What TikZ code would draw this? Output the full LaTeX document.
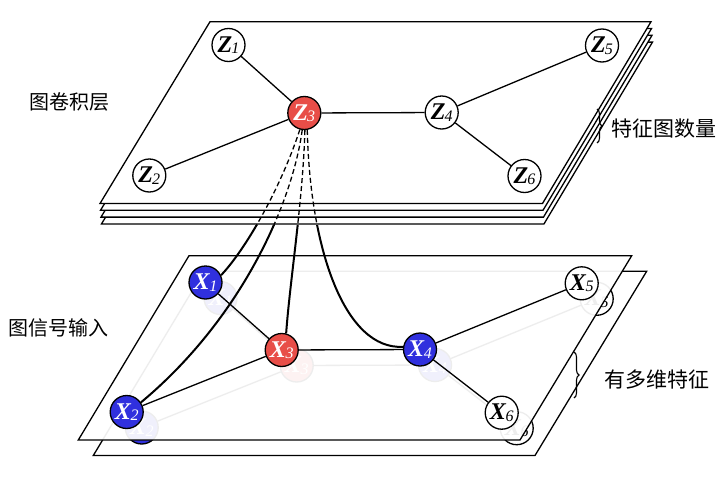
\documentclass[tikz,border=0pt]{standalone}
\usepackage{fontspec}
\setmainfont{Liberation Serif}
\newfontfamily\cjk{Noto Sans CJK SC}
\usetikzlibrary{decorations.pathreplacing}
\definecolor{nblue}{RGB}{48,48,222}
\definecolor{nred}{RGB}{232,78,72}
\newcommand\glab[2]{\textbf{\textit{#1}}\kern-0.8pt\raisebox{-1.5pt}{\fontsize{16}{16}\selectfont\textit{#2}}}
\begin{document}
\begin{tikzpicture}[x=1pt,y=-1pt,
  sheet/.style={draw=black, line width=1.3pt, fill=white, line join=miter},
  frontsheet/.style={draw=black, line width=1.3pt, fill=white, fill opacity=0.93, line join=miter},
  gnode/.style={circle, draw=black, line width=1.3pt, minimum size=33pt, inner sep=0pt, fill=white, font=\fontsize{24}{24}\selectfont},
  bnode/.style={gnode, fill=nblue, text=white},
  rnode/.style={gnode, fill=nred, text=white},
  gedge/.style={draw=black, line width=1.3pt},
  dashlink/.style={draw=black, line width=1.3pt, dash pattern=on 5pt off 3pt},
  solidlink/.style={draw=black, line width=2pt},
  lbl/.style={font=\cjk\fontsize{20}{20}\selectfont, inner sep=0pt},
  bracestyle/.style={draw=black, line width=1.1pt, decorate, decoration={brace, amplitude=5pt}}
]
\useasboundingbox (0,0) rectangle (720,482);
\fill[white] (0,0) rectangle (720,482);

% ---------- top stack of sheets ----------
\foreach \d in {3,2,1,0}{
  \draw[sheet, shift={(0.5*\d,6.8*\d)}] (210,21.7) -- (651,21.7) -- (542.5,203.5) -- (100,203.5) -- cycle;
}

% top graph
\node[gnode] (z1) at (228.5,45) {\glab{Z}{1}};
\node[gnode] (z2) at (149.3,175.5) {\glab{Z}{2}};
\node[rnode] (z3) at (304.3,113) {\glab{Z}{3}};
\node[gnode] (z4) at (441.7,112.5) {\glab{Z}{4}};
\node[gnode] (z5) at (602,45.5) {\glab{Z}{5}};
\node[gnode] (z6) at (524.5,176) {\glab{Z}{6}};
\draw[gedge] (z1) -- (z3);
\draw[gedge] (z2) -- (z3);
\draw[gedge] (z3) -- (z4);
\draw[gedge] (z4) -- (z5);
\draw[gedge] (z4) -- (z6);

% ---------- lower sheets ----------
\draw[sheet] (204,271.2) -- (646.7,271.2) -- (535,455.5) -- (93.3,455.5) -- cycle;
\node[bnode] (bx1) at (220.5,298) {\glab{X}{1}};
\node[bnode] (bx2) at (141.7,427.5) {\glab{X}{2}};
\node[rnode] (bx3) at (296.7,365.5) {\glab{X}{3}};
\node[bnode] (bx4) at (435,365) {\glab{X}{4}};
\node[gnode] (bx5) at (596.7,298.8) {\glab{X}{5}};
\node[gnode] (bx6) at (516.7,428.2) {\glab{X}{6}};
\draw[gedge] (bx1) -- (bx3);
\draw[gedge] (bx2) -- (bx3);
\draw[gedge] (bx3) -- (bx4);
\draw[gedge] (bx4) -- (bx5);
\draw[gedge] (bx4) -- (bx6);

\draw[frontsheet] (189,255.7) -- (631.7,255.7) -- (520,440) -- (78.3,440) -- cycle;

\node[bnode] (x1) at (205.5,282.5) {\glab{X}{1}};
\node[bnode] (x2) at (126.7,412) {\glab{X}{2}};
\node[rnode] (x3) at (281.7,350) {\glab{X}{3}};
\node[bnode] (x4) at (420,349.5) {\glab{X}{4}};
\node[gnode] (x5) at (581.7,283.3) {\glab{X}{5}};
\node[gnode] (x6) at (501.7,412.7) {\glab{X}{6}};
\draw[gedge] (x1) -- (x3);
\draw[gedge] (x2) -- (x3);
\draw[gedge] (x3) -- (x4);
\draw[gedge] (x4) -- (x5);
\draw[gedge] (x4) -- (x6);

% ---------- links between layers ----------
\begin{scope}
  \clip (0,0) rectangle (720,225);
  \draw[dashlink] (z3.-105) .. controls (280,190) and (245,250) .. (x1.25);
  \draw[dashlink] (z3.-97) .. controls (292,205) and (240,320) .. (x2.34);
  \draw[dashlink] (z3.-88) .. controls (303,200) and (290,280) .. (x3.75);
  \draw[dashlink] (z3.-80) .. controls (310,250) and (345,350) .. (x4.171);
\end{scope}
\begin{scope}
  \clip (0,225) rectangle (720,482);
  \draw[solidlink] (z3.-105) .. controls (280,190) and (245,250) .. (x1.25);
  \draw[solidlink] (z3.-97) .. controls (292,205) and (240,320) .. (x2.34);
  \draw[solidlink] (z3.-88) .. controls (303,200) and (290,280) .. (x3.75);
  \draw[solidlink] (z3.-80) .. controls (310,250) and (345,350) .. (x4.171);
\end{scope}

% ---------- labels ----------
\node[lbl] (t1) at (69,101.7) {图卷积层};
\node[lbl] (t2) at (59,328) {图信号输入};
\node[lbl, font=\cjk\fontsize{21}{21}\selectfont] (t3) at (664,128.3) {特征图数量};
\node[lbl, font=\cjk\fontsize{21}{21}\selectfont] (t4) at (656.5,380) {有多维特征};

\coordinate (b1a) at (597,109);
\coordinate (b1b) at (597,143);
\coordinate (b2a) at (574,352);
\coordinate (b2b) at (574,398);
\draw[bracestyle] (b1a) -- (b1b);
\draw[bracestyle] (b2a) -- (b2b);
\end{tikzpicture}
\end{document}
